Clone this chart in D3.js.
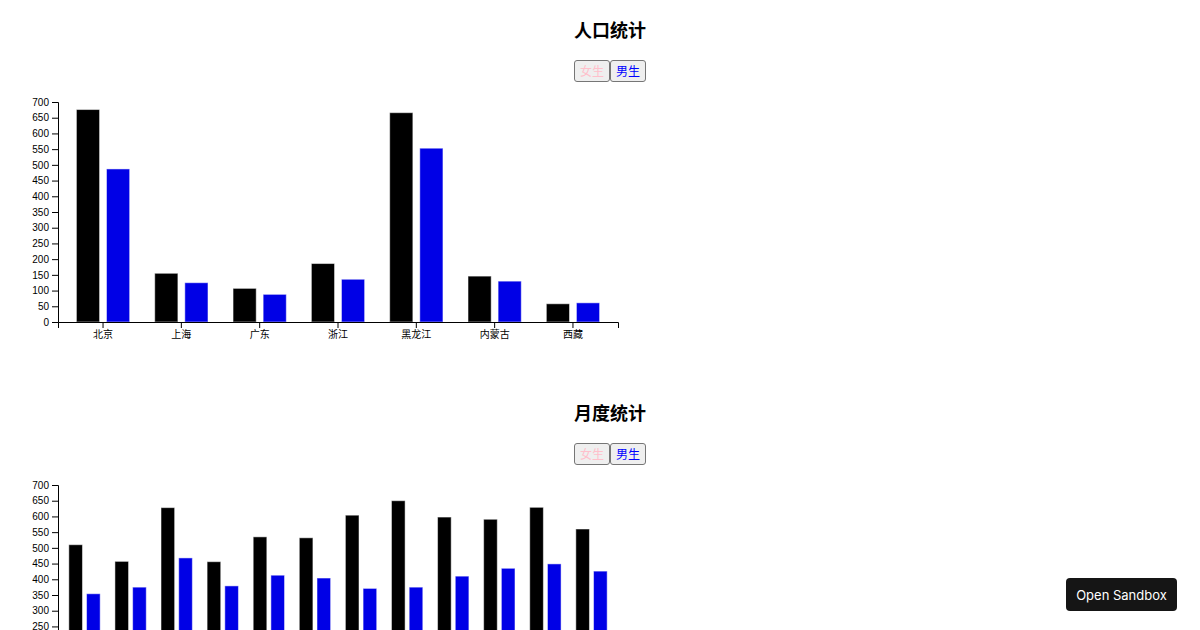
<!DOCTYPE html>
<html>
<head>
<meta charset="utf-8">
<script src="https://cdn.jsdelivr.net/npm/d3@7"></script>
<style>
  html, body { margin: 0; padding: 0; background: #fff; overflow: hidden; width: 1200px; height: 630px; }
  #root { position: relative; width: 1200px; height: 630px; overflow: hidden; }
  svg { position: absolute; left: 0; top: 0; }
  .btn {
    position: absolute; width: 36px; height: 22px; padding: 0; box-sizing: border-box;
    background: #efefef; border: 1px solid #767676; border-radius: 3px;
    font-family: "Noto Sans CJK SC", sans-serif; font-size: 12px; line-height: 18px; cursor: pointer;
  }
  .sandbox {
    position: absolute; left: 1066px; top: 578px; width: 111px; height: 33px;
    background: #151515; color: #fff; border-radius: 4px; border: none;
    font-family: Inter, "Liberation Sans", Arial, sans-serif; font-size: 13px;
    display: flex; align-items: center; justify-content: center;
  }
  .tick text { font-family: "Liberation Sans", Arial, "Noto Sans CJK SC", sans-serif; }
</style>
</head>
<body>
<div id="root"></div>
<script>
// ---- data ----
const series = ["男生", "女生"];
const buttonLabels = ["女生", "男生"];

const title1 = "人口统计";
const categories1 = ["北京", "上海", "广东", "浙江", "黑龙江", "内蒙古", "西藏"];
const values1A = [676, 155, 107, 186, 666, 146, 58];
const values1B = [487, 125, 88, 136, 553, 130, 61];

const title2 = "月度统计";
const categories2 = ["一月", "二月", "三月", "四月", "五月", "六月", "七月", "八月", "九月", "十月", "十一月", "十二月"];
const values2A = [510, 457, 628, 456, 535, 532, 604, 650, 598, 591, 629, 560];
const values2B = [354, 375, 468, 379, 413, 404, 371, 375, 410, 435, 449, 426];

const yTicks = [0, 50, 100, 150, 200, 250, 300, 350, 400, 450, 500, 550, 600, 650, 700];

// ---- drawing ----
const root = d3.select("#root");
const svg = root.append("svg").attr("width", 1200).attr("height", 1000);

const W = 560, H = 220;
const colors = ["#000000", "#0000e6"];

function drawChart(top, title, cats, a, b) {
  const rows = cats.map((c, i) => ({ cat: c, vals: [a[i], b[i]] }));

  svg.append("text")
    .attr("x", 610).attr("y", top + 37)
    .attr("text-anchor", "middle")
    .attr("font-family", "'Noto Sans CJK SC', sans-serif")
    .attr("font-weight", "bold")
    .attr("font-size", 18)
    .text(title);

  const btnColors = ["pink", "blue"];
  buttonLabels.forEach((t, i) => {
    root.append("button").attr("class", "btn")
      .style("left", (574 + i * 36) + "px")
      .style("top", (top + 60) + "px")
      .style("color", btnColors[i])
      .text(t);
  });

  const g = svg.append("g").attr("transform", `translate(58,${top + 102})`);

  const x0 = d3.scaleBand().domain(cats).range([0, W]).paddingInner(0.32).paddingOuter(0.235);
  const x1 = d3.scaleBand().domain([0, 1]).range([0, x0.bandwidth()]).paddingInner(0.23).paddingOuter(0);
  const y = d3.scaleLinear().domain([0, 700]).range([H, 0]);

  const grp = g.selectAll(".grp").data(rows).join("g")
    .attr("transform", d => `translate(${x0(d.cat)},0)`);
  grp.selectAll("rect").data(d => d.vals.map((v, k) => ({ v, k }))).join("rect")
    .attr("x", d => x1(d.k))
    .attr("y", d => y(d.v))
    .attr("width", x1.bandwidth())
    .attr("height", d => H - y(d.v))
    .attr("fill", d => colors[d.k])
    .attr("stroke", "#fff")
    .attr("stroke-opacity", 0.5)
    .attr("stroke-width", 1);

  g.append("g").attr("transform", `translate(0,${H})`)
    .call(d3.axisBottom(x0))
    .selectAll("text").attr("font-family", "'Noto Sans CJK SC', sans-serif").attr("font-size", 10);

  g.append("g").call(d3.axisLeft(y).tickValues(yTicks));
}

drawChart(0, title1, categories1, values1A, values1B);
drawChart(383, title2, categories2, values2A, values2B);

root.append("div").attr("class", "sandbox").text("Open Sandbox");
</script>
</body>
</html>
